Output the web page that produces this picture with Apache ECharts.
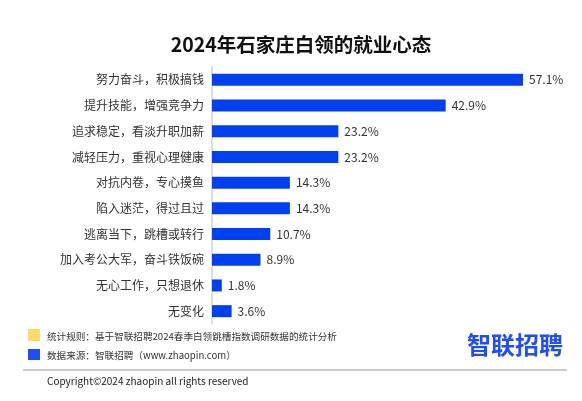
<!DOCTYPE html>
<html><head><meta charset="utf-8">
<script src="https://cdn.jsdelivr.net/npm/echarts@6/dist/echarts.min.js"></script>
<style>html,body{margin:0;padding:0;background:#fff}#c{width:582px;height:401px}</style>
</head><body><div id="c"></div>
<script>
var titleText = '2024年石家庄白领的就业心态';
var categories = ['努力奋斗，积极搞钱','提升技能，增强竞争力','追求稳定，看淡升职加薪','减轻压力，重视心理健康','对抗内卷，专心摸鱼','陷入迷茫，得过且过','逃离当下，跳槽或转行','加入考公大军，奋斗铁饭碗','无心工作，只想退休','无变化'];
var values = [57.1, 42.9, 23.2, 23.2, 14.3, 14.3, 10.7, 8.9, 1.8, 3.6];
var noteRule = '统计规则：基于智联招聘2024春季白领跳槽指数调研数据的统计分析';
var noteSource = '数据来源：智联招聘（www.zhaopin.com）';
var logoText = '智联招聘';
var copyright = 'Copyright©2024 zhaopin all rights reserved';
var FONT = '"Noto Sans CJK SC", "Noto Sans", sans-serif';

var chart = echarts.init(document.getElementById('c'), null, {renderer:'canvas'});
chart.setOption({
  animation:false,
  backgroundColor:'#fff',
  textStyle:{fontFamily:FONT},
  title:{text:titleText,left:296,top:30,textAlign:'center',
    textStyle:{fontFamily:FONT,fontSize:19.5,fontWeight:'bold',color:'#111'}},
  grid:{left:212,top:67,width:326.8,height:257},
  xAxis:{type:'value',min:0,max:60,show:false},
  yAxis:{type:'category',data:categories,inverse:true,
    axisLine:{show:true,lineStyle:{color:'#d0d0d0',width:1.5}},
    axisTick:{show:false},
    axisLabel:{margin:8,fontSize:12,color:'#333',fontFamily:FONT}},
  series:[{type:'bar',data:values,barWidth:12,
    itemStyle:{color:'#0040ee'},
    label:{show:true,position:'right',distance:6,fontSize:12,color:'#333',fontFamily:FONT,
      formatter:function(p){return p.value.toFixed(1)+'%';}}}],
  graphic:[
    {type:'rect',shape:{x:28,y:329,width:12,height:12},style:{fill:'#ffd966'}},
    {type:'rect',shape:{x:28,y:349,width:12,height:11},style:{fill:'#1f4ef5'}},
    {type:'text',x:47,y:336,style:{text:noteRule,fontSize:9.6,fill:'#333',fontFamily:FONT,textVerticalAlign:'middle'}},
    {type:'text',x:47,y:355,style:{text:noteSource,fontSize:9.6,fill:'#333',fontFamily:FONT,textVerticalAlign:'middle'}},
    {type:'text',x:515,y:345,style:{text:logoText,fontSize:24,fontWeight:'bold',fill:'#1f4ef5',fontFamily:FONT,textAlign:'center',textVerticalAlign:'middle'}},
    {type:'line',shape:{x1:23,y1:370,x2:567,y2:370},style:{stroke:'#999',lineWidth:1}},
    {type:'text',x:47,y:381,style:{text:copyright,fontSize:10,fill:'#222',fontFamily:FONT,textVerticalAlign:'middle'}}
  ]
});
</script></body></html>
